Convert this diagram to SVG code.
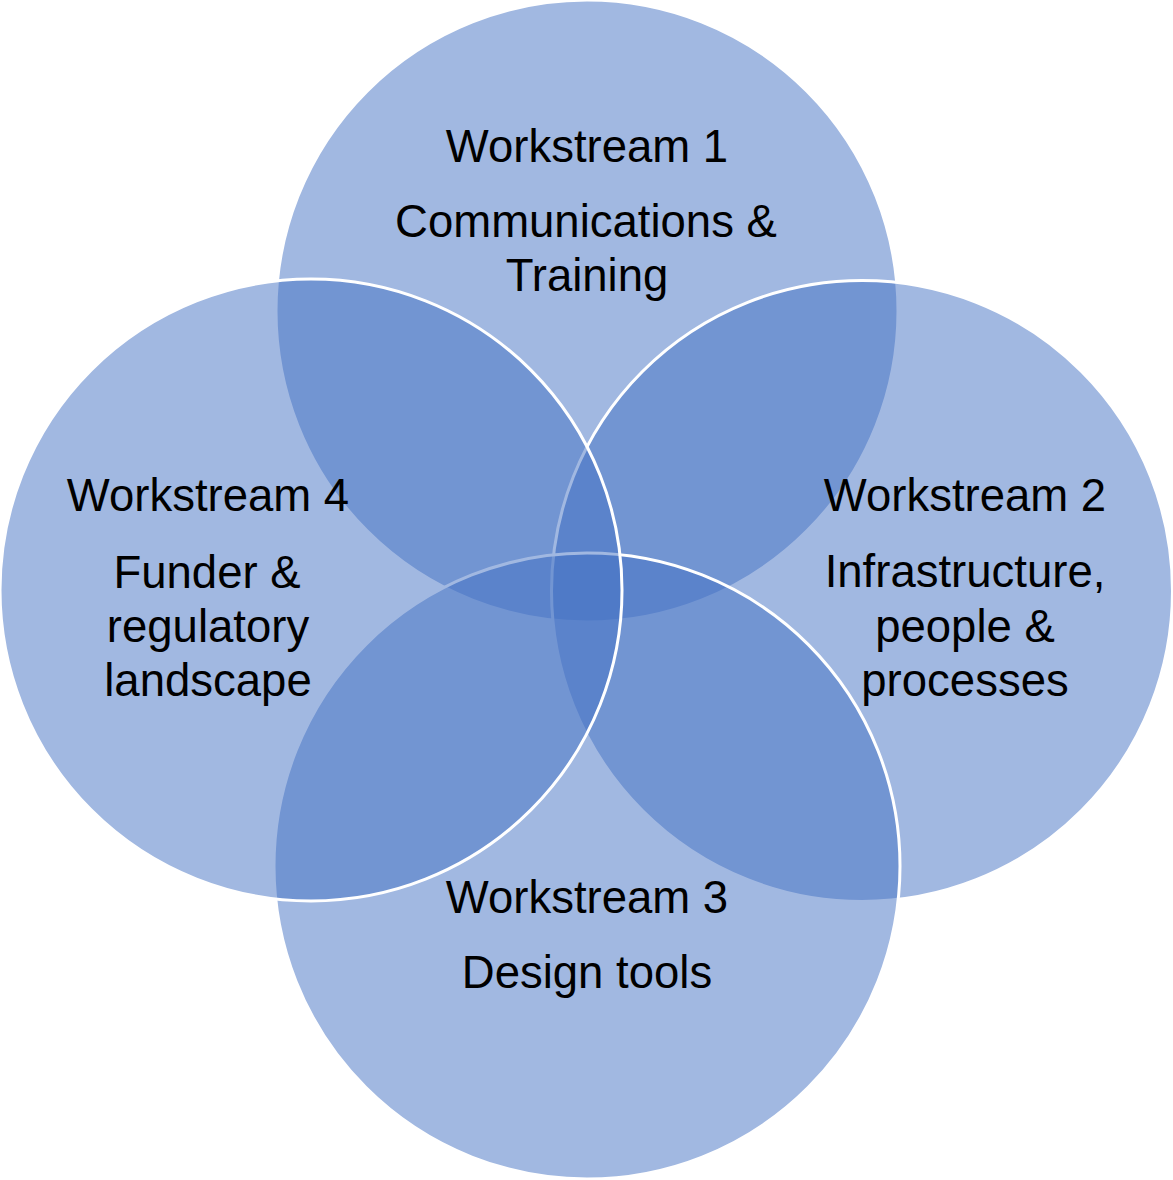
<svg xmlns="http://www.w3.org/2000/svg" width="1173" height="1180" viewBox="0 0 1173 1180">
<style>
.c{fill:#4472C4;fill-opacity:0.5;stroke:#FFFFFF;stroke-width:3}
.t{font-family:"Liberation Sans",Arial,sans-serif;font-size:45.5px;fill:#000000;text-anchor:middle}
</style>
<rect width="1173" height="1180" fill="#FFFFFF"/>
<g id="ws1">
<circle class="c" cx="587" cy="311" r="311"/>
<text class="t" x="587" y="162">Workstream 1</text>
<text class="t" x="586" y="237">Communications &amp;</text>
<text class="t" x="587" y="291">Training</text>
</g>
<g id="ws2">
<circle class="c" cx="862" cy="591" r="310.5"/>
<text class="t" x="965" y="511">Workstream 2</text>
<text class="t" x="965" y="587">Infrastructure,</text>
<text class="t" x="965" y="642">people &amp;</text>
<text class="t" x="965" y="696">processes</text>
</g>
<g id="ws3">
<circle class="c" cx="587" cy="866" r="313"/>
<text class="t" x="587" y="913">Workstream 3</text>
<text class="t" x="587" y="988">Design tools</text>
</g>
<g id="ws4">
<circle class="c" cx="311" cy="590" r="311"/>
<text class="t" x="208" y="511">Workstream 4</text>
<text class="t" x="207" y="588">Funder &amp;</text>
<text class="t" x="208" y="642">regulatory</text>
<text class="t" x="208" y="696">landscape</text>
</g>
<g id="connectors"></g>
</svg>
